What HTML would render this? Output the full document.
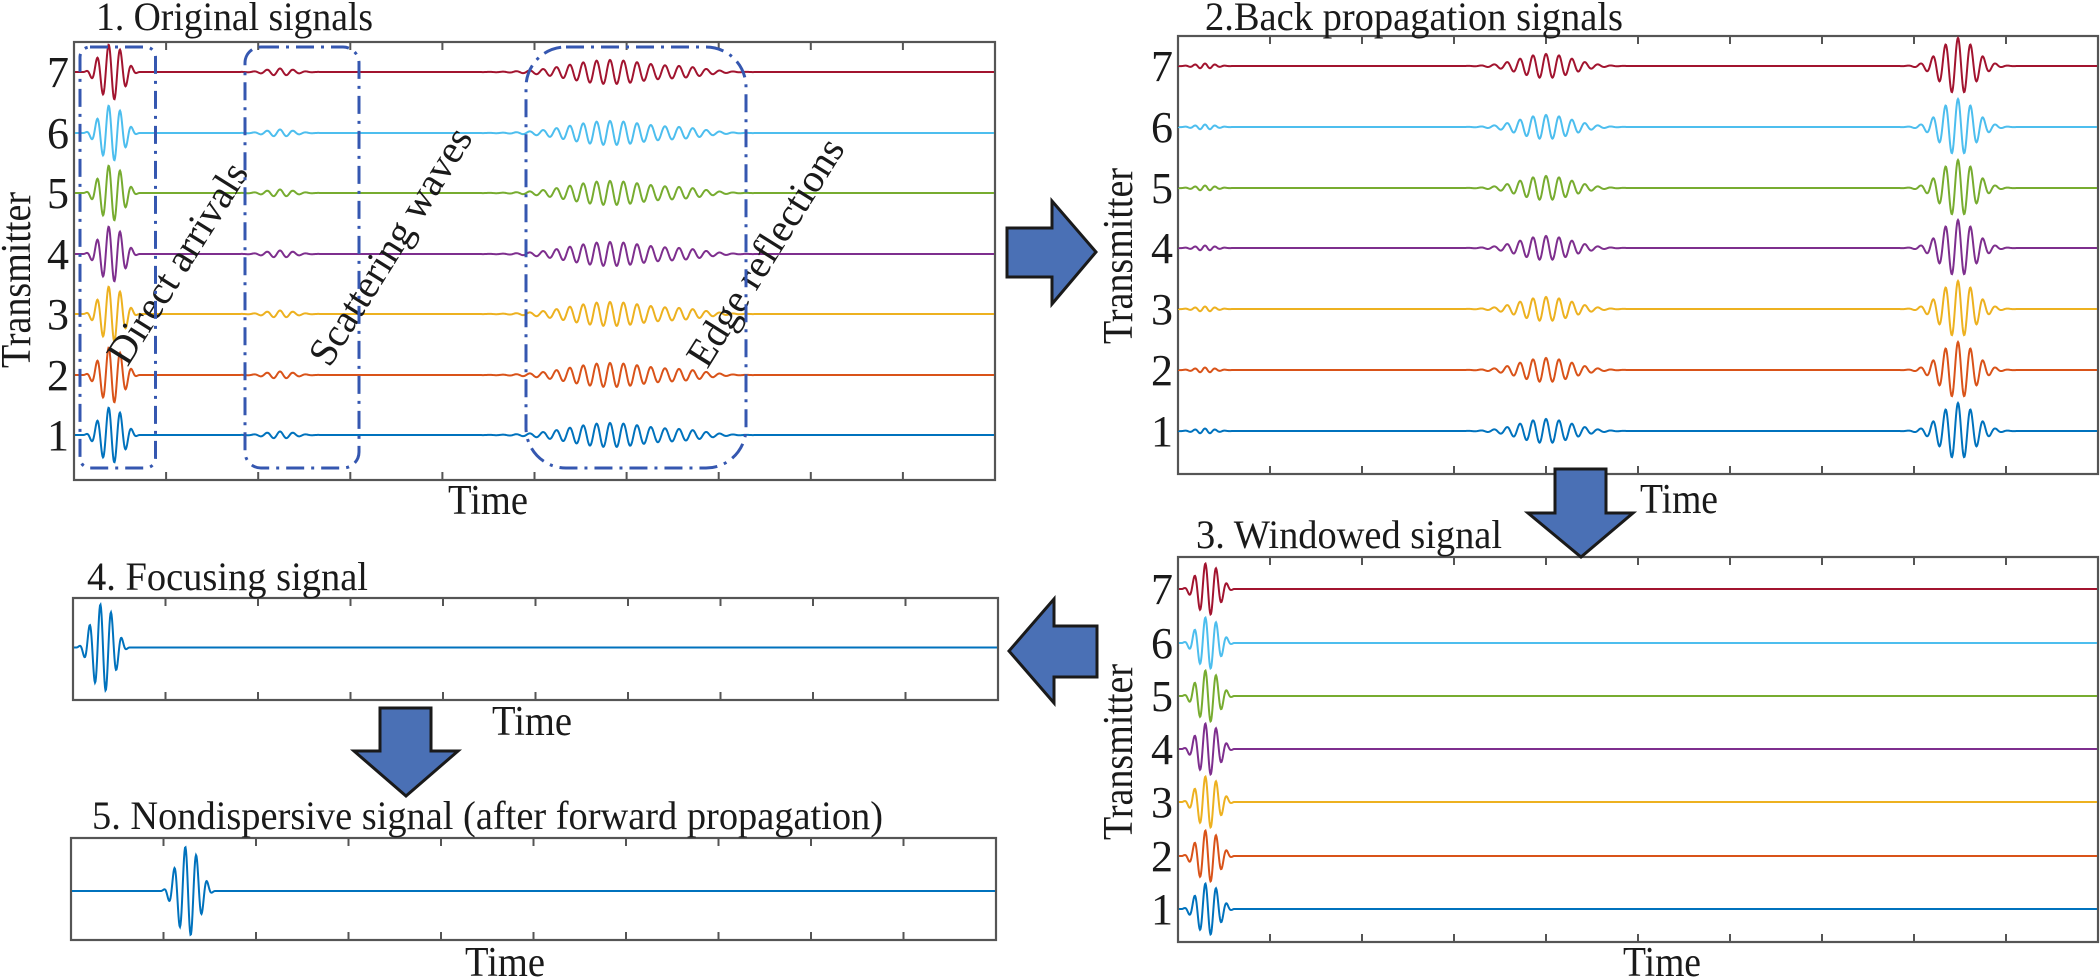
<!DOCTYPE html>
<html><head><meta charset="utf-8"><style>
html,body{margin:0;padding:0;background:#fff;}
svg{display:block;}
</style></head><body>
<svg id="s" width="2100" height="980" viewBox="0 0 2100 980" xmlns="http://www.w3.org/2000/svg" font-family="'Liberation Serif', serif" fill="#1a1a1a">
<g id="g"></g>
<g font-family="'Liberation Serif', serif" fill="#1a1a1a">
<text x="96" y="30" font-size="40" textLength="277" lengthAdjust="spacingAndGlyphs">1. Original signals</text>
<text x="1205" y="30" font-size="40" textLength="418" lengthAdjust="spacingAndGlyphs">2.Back propagation signals</text>
<text x="1196" y="548" font-size="40" textLength="306" lengthAdjust="spacingAndGlyphs">3. Windowed signal</text>
<text x="87" y="590" font-size="40" textLength="281" lengthAdjust="spacingAndGlyphs">4. Focusing signal</text>
<text x="92" y="829" font-size="40" textLength="791" lengthAdjust="spacingAndGlyphs">5. Nondispersive signal (after forward propagation)</text>
<text x="448" y="514" font-size="42" textLength="80" lengthAdjust="spacingAndGlyphs">Time</text>
<text x="1640" y="513" font-size="42" textLength="78" lengthAdjust="spacingAndGlyphs">Time</text>
<text x="1623" y="976" font-size="42" textLength="78" lengthAdjust="spacingAndGlyphs">Time</text>
<text x="492" y="735" font-size="42" textLength="80" lengthAdjust="spacingAndGlyphs">Time</text>
<text x="465" y="976" font-size="42" textLength="80" lengthAdjust="spacingAndGlyphs">Time</text>
<text transform="translate(30,280) rotate(-90)" text-anchor="middle" font-size="42" textLength="176" lengthAdjust="spacingAndGlyphs">Transmitter</text>
<text transform="translate(1132,256) rotate(-90)" text-anchor="middle" font-size="42" textLength="176" lengthAdjust="spacingAndGlyphs">Transmitter</text>
<text transform="translate(1132,752) rotate(-90)" text-anchor="middle" font-size="42" textLength="176" lengthAdjust="spacingAndGlyphs">Transmitter</text>
<text transform="translate(177,263) rotate(-58)" text-anchor="middle" dominant-baseline="central" font-size="40">Direct arrivals</text>
<text transform="translate(390,246) rotate(-58)" text-anchor="middle" dominant-baseline="central" font-size="40">Scattering waves</text>
<text transform="translate(765,252) rotate(-58)" text-anchor="middle" dominant-baseline="central" font-size="40">Edge reflections</text>
</g>
<g fill="none" stroke="#3557b0" stroke-width="3" stroke-dasharray="18,7,3,7">
<rect x="80" y="47" width="75.5" height="421" rx="10"/>
<rect x="245" y="47" width="114" height="421" rx="16"/>
<rect x="526" y="47" width="220" height="421" rx="40"/>
</g>
<g fill="#4a70b5" stroke="#1a1a1a" stroke-width="3" stroke-linejoin="miter">
<polygon points="1007,228 1052,228 1052,201 1096,252 1052,304 1052,277 1007,277"/>
<polygon points="1555,469 1606,469 1606,513 1633,513 1581,557 1528,513 1555,513"/>
<polygon points="1097,626 1054,626 1054,599 1009,651 1054,703 1054,677 1097,677"/>
<polygon points="380,708 431,708 431,751 458,751 406,796 354,751 380,751"/>
</g>
</svg>
<script>
var g=document.getElementById('g');
var NS='http://www.w3.org/2000/svg';
function el(t,a){var e=document.createElementNS(NS,t);for(var k in a)e.setAttribute(k,a[k]);g.appendChild(e);return e;}
var C=['#0072BD','#D95319','#EDB120','#7E2F8E','#77AC30','#4DBEEE','#A2142F'];
function axes(x0,y0,x1,y1,nd){
  el('rect',{x:x0,y:y0,width:x1-x0,height:y1-y0,fill:'none',stroke:'#555','stroke-width':2.2});
  var d='';var sp=(x1-x0)/nd;
  for(var i=1;i<nd;i++){var x=x0+i*sp;d+='M'+x+' '+y0+'v8M'+x+' '+y1+'v-8';}
  el('path',{d:d,stroke:'#555','stroke-width':2,fill:'none'});
}
function burst(c,T,A,n){return function(x){var L=n*T,s=c-L/2;if(x<s||x>s+L)return 0;var t=x-s;return A*Math.sin(2*Math.PI*t/T)*0.5*(1-Math.cos(2*Math.PI*t/L));};}
function gau(c,T,A,sg){return function(x){var u=(x-c)/sg;if(Math.abs(u)>4)return 0;return A*Math.cos(2*Math.PI*(x-c)/T)*Math.exp(-u*u/2);};}
function trace(x0,x1,y,col,fs){
  var d='M'+x0+' '+y;
  for(var x=x0;x<=x1;x+=0.5){var v=0;fs.forEach(function(f){v+=f(x);});d+='L'+x.toFixed(1)+' '+(y-v).toFixed(2);}
  el('path',{d:d,stroke:col,'stroke-width':2,fill:'none'});
}
function ylabels(x,ys){ys.forEach(function(y,i){var t=el('text',{x:x,y:y+15,'font-size':44,'text-anchor':'middle','font-family':"'Liberation Serif', serif",fill:'#1a1a1a'});t.textContent=(i+1);});}
axes(74,42,995,480,10);
var y1=[435,375,314,254,193,133,72];
ylabels(58,y1);
y1.forEach(function(y,i){trace(75,994,y,C[i],[burst(111.5,11.5,28,5),gau(280,13,3.5,14),gau(610,13.4,12,40),gau(680,13.4,5,25)]);});
axes(1178,36,2098,474,10);
var y2=[431,370,309,248,188,127,66];
ylabels(1162,y2);
y2.forEach(function(y,i){trace(1179,2097,y,C[i],[gau(1205,10,2.5,10),gau(1546,13,12,26),gau(1958,12.5,28,17)]);});
axes(1178,557,2098,942,10);
var y3=[909,856,802,749,696,643,589];
ylabels(1162,y3);
y3.forEach(function(y,i){trace(1179,2097,y,C[i],[burst(1208,10.8,26,5)]);});
axes(73,598,998,700,10);
trace(74,997,647.5,C[0],[burst(103,10.8,44,5)]);
axes(71,838,996,940,10);
trace(72,995,891,C[0],[burst(188,11,45,5)]);
</script>
</body></html>
